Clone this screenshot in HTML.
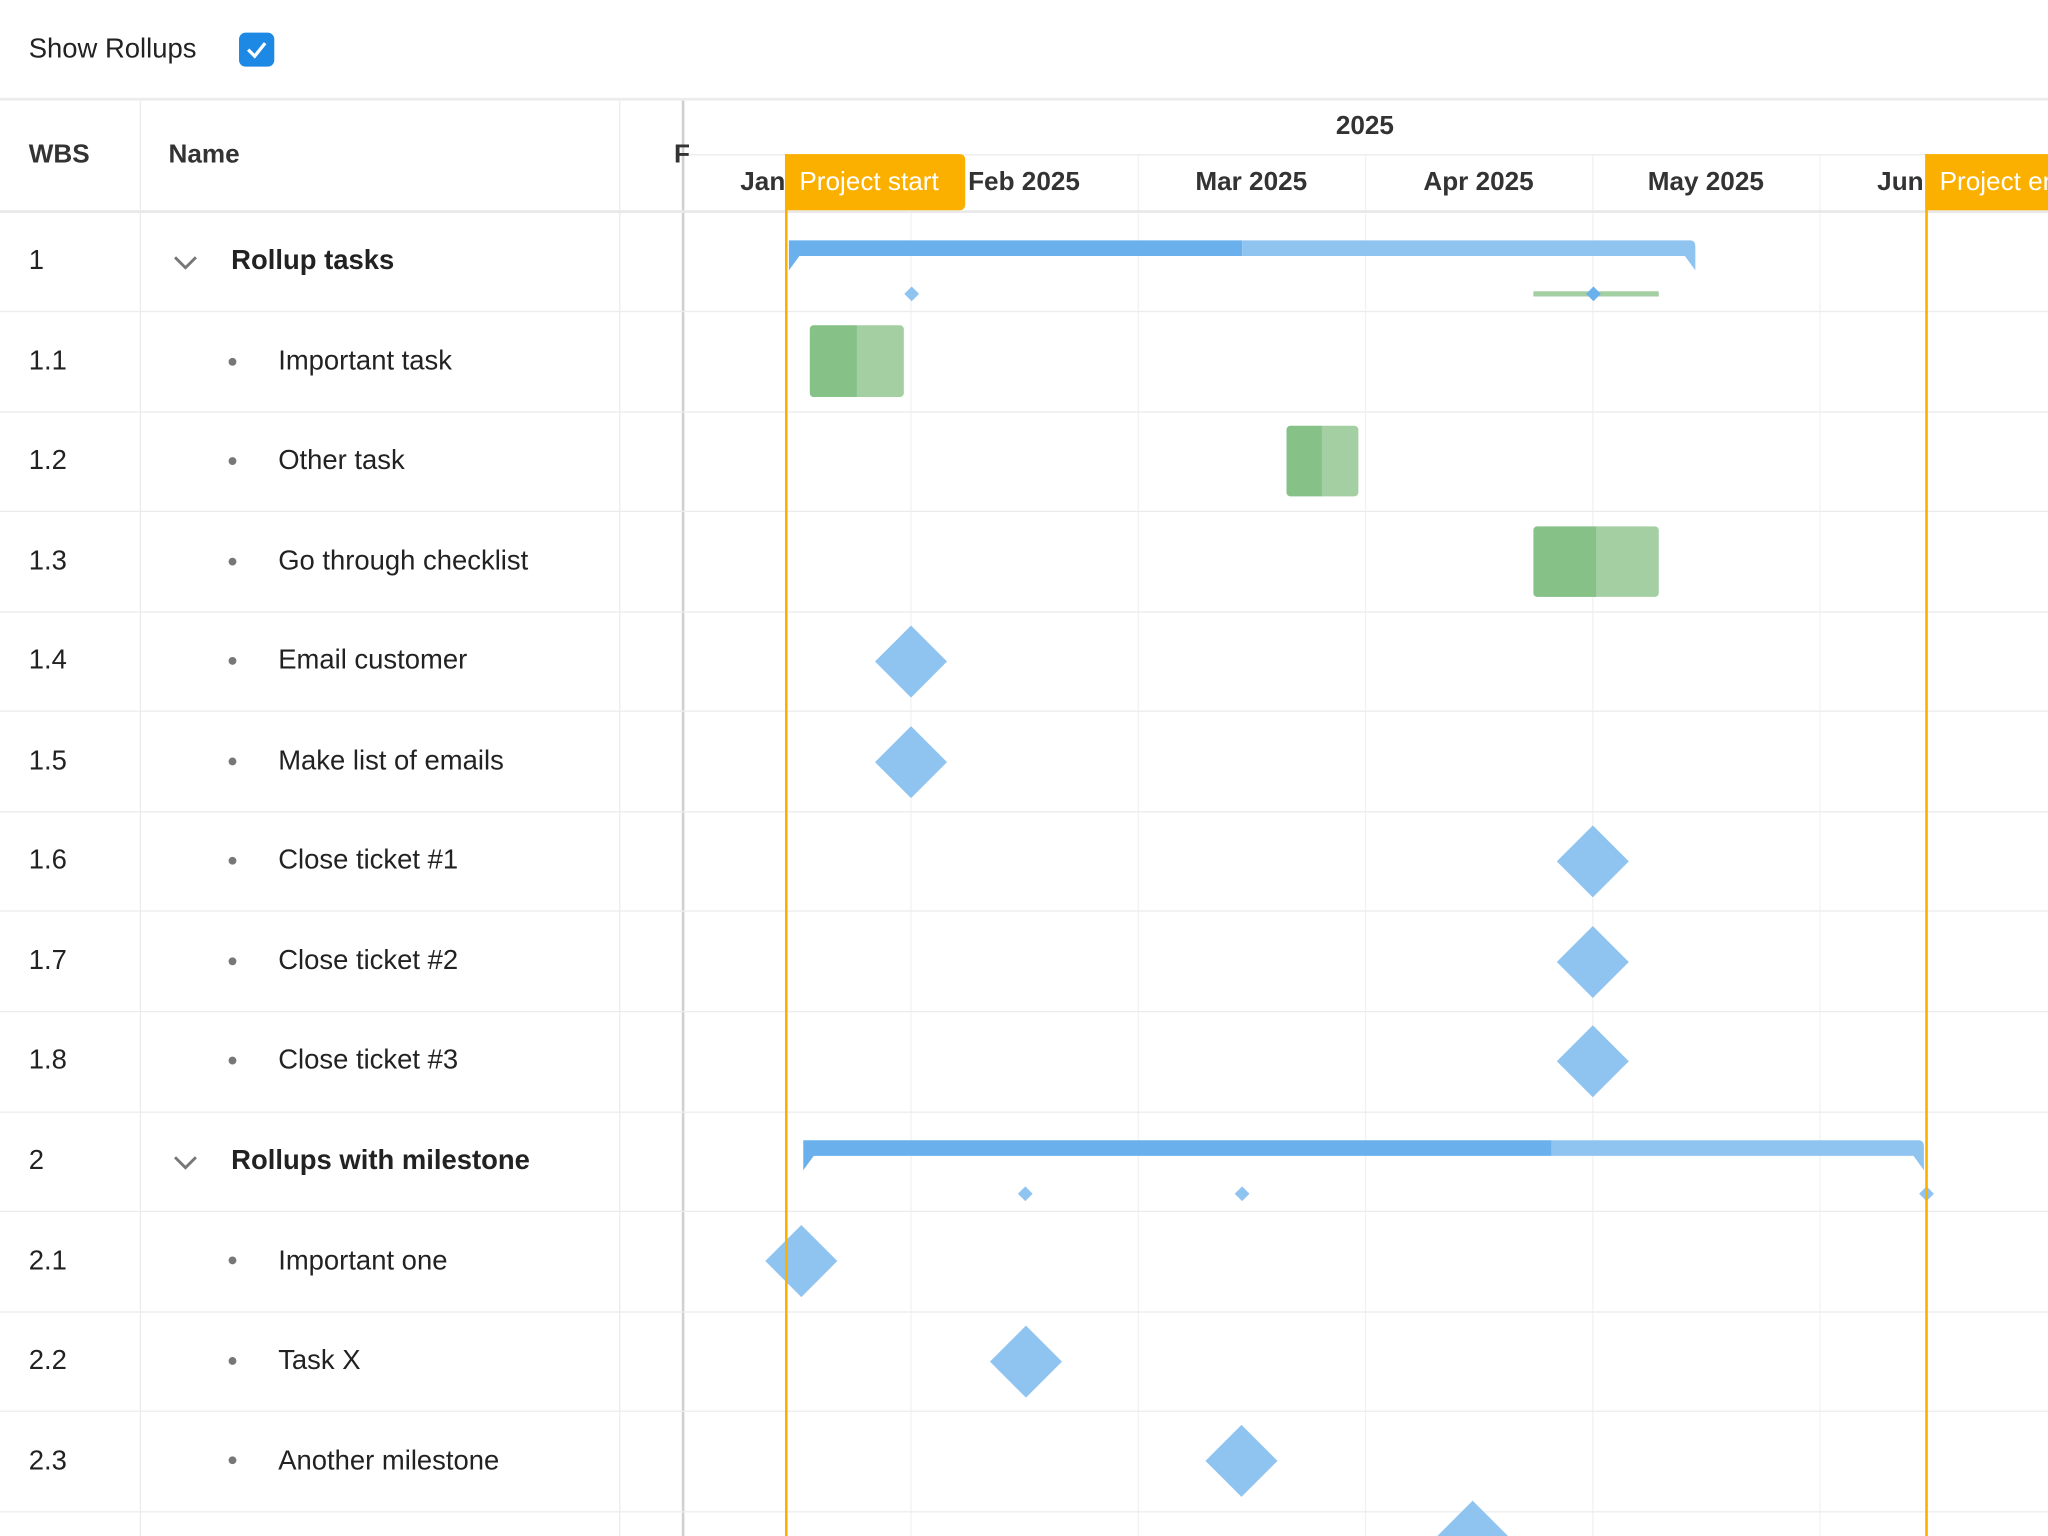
<!DOCTYPE html>
<html><head><meta charset="utf-8"><style>
html,body{margin:0;padding:0;background:#fff;overflow:hidden;width:2048px;height:1536px}
#w{position:absolute;left:0;top:0;width:1568px;height:1176px;overflow:hidden;transform:scale(1.30612);transform-origin:0 0;font-family:"Liberation Sans",sans-serif;color:#222}
.a{position:absolute}
.t{position:absolute;font-size:21px;white-space:nowrap;transform:translateY(-50%)}
.h{font-weight:bold;color:#333;font-size:20px}
.vl{position:absolute;width:1px;background:#ececec}
.d{position:absolute;background:#90c4f0;transform:rotate(45deg)}
.ml{position:absolute;font-size:20px;font-weight:bold;color:#333;transform:translate(-50%,-50%);white-space:nowrap}
.b{position:absolute;width:6px;height:6px;border-radius:50%;background:#777}
</style></head><body><div id="w">
<div class="t" style="left:22px;top:38px;font-size:21px">Show Rollups</div>
<div class="a" style="left:183px;top:25px;width:27px;height:26px;background:#1e88e5;border-radius:5px"></div>
<svg class="a" style="left:183px;top:25px" width="27" height="26"><path d="M7 13 L12 18 L20 8" stroke="#fff" stroke-width="2.5" fill="none"/></svg>
<div class="a" style="left:0;top:75px;width:1568px;height:2px;background:#ececec"></div>
<div class="vl" style="left:107px;top:77px;height:1099px"></div>
<div class="vl" style="left:474px;top:77px;height:1099px"></div>
<div class="a" style="left:522px;top:77px;width:2px;height:1099px;background:#d0d0d0"></div>
<div class="vl" style="left:697px;top:118px;height:1058px;background:#f2f2f2"></div>
<div class="vl" style="left:871px;top:118px;height:1058px;background:#f2f2f2"></div>
<div class="vl" style="left:1045px;top:118px;height:1058px;background:#f2f2f2"></div>
<div class="vl" style="left:1219px;top:118px;height:1058px;background:#f2f2f2"></div>
<div class="vl" style="left:1393px;top:118px;height:1058px;background:#f2f2f2"></div>
<div class="a" style="left:523px;top:118px;width:1045px;height:1px;background:#ececec"></div>
<div class="a" style="left:0;top:161px;width:1568px;height:2px;background:#e8e8e8"></div>
<div class="a" style="left:0;top:238px;width:1568px;height:1px;background:#ececec"></div>
<div class="a" style="left:0;top:315px;width:1568px;height:1px;background:#ececec"></div>
<div class="a" style="left:0;top:391px;width:1568px;height:1px;background:#ececec"></div>
<div class="a" style="left:0;top:468px;width:1568px;height:1px;background:#ececec"></div>
<div class="a" style="left:0;top:544px;width:1568px;height:1px;background:#ececec"></div>
<div class="a" style="left:0;top:621px;width:1568px;height:1px;background:#ececec"></div>
<div class="a" style="left:0;top:697px;width:1568px;height:1px;background:#ececec"></div>
<div class="a" style="left:0;top:774px;width:1568px;height:1px;background:#ececec"></div>
<div class="a" style="left:0;top:851px;width:1568px;height:1px;background:#ececec"></div>
<div class="a" style="left:0;top:927px;width:1568px;height:1px;background:#ececec"></div>
<div class="a" style="left:0;top:1004px;width:1568px;height:1px;background:#ececec"></div>
<div class="a" style="left:0;top:1080px;width:1568px;height:1px;background:#ececec"></div>
<div class="a" style="left:0;top:1157px;width:1568px;height:1px;background:#ececec"></div>
<div class="t h" style="left:22px;top:119px">WBS</div>
<div class="t h" style="left:129px;top:119px">Name</div>
<div class="t h" style="left:516px;top:119px">F</div>
<div class="ml" style="left:1045px;top:97px">2025</div>
<div class="ml" style="left:584px;top:140px">Jan</div>
<div class="ml" style="left:784px;top:140px">Feb 2025</div>
<div class="ml" style="left:958px;top:140px">Mar 2025</div>
<div class="ml" style="left:1132px;top:140px">Apr 2025</div>
<div class="ml" style="left:1306px;top:140px">May 2025</div>
<div class="ml" style="left:1455px;top:140px">Jun</div>
<div class="t" style="left:22px;top:200px">1</div>
<svg class="a" style="left:132px;top:194px" width="20" height="14"><path d="M2 3 L10 11 L18 3" stroke="#777" stroke-width="2.2" fill="none"/></svg>
<div class="t" style="left:177px;top:200px;font-weight:bold;color:#222">Rollup tasks</div>
<div class="t" style="left:22px;top:277px">1.1</div><div class="b" style="left:175px;top:274px"></div><div class="t" style="left:213px;top:277px">Important task</div>
<div class="t" style="left:22px;top:353px">1.2</div><div class="b" style="left:175px;top:350px"></div><div class="t" style="left:213px;top:353px">Other task</div>
<div class="t" style="left:22px;top:430px">1.3</div><div class="b" style="left:175px;top:427px"></div><div class="t" style="left:213px;top:430px">Go through checklist</div>
<div class="t" style="left:22px;top:506px">1.4</div><div class="b" style="left:175px;top:503px"></div><div class="t" style="left:213px;top:506px">Email customer</div>
<div class="t" style="left:22px;top:583px">1.5</div><div class="b" style="left:175px;top:580px"></div><div class="t" style="left:213px;top:583px">Make list of emails</div>
<div class="t" style="left:22px;top:659px">1.6</div><div class="b" style="left:175px;top:656px"></div><div class="t" style="left:213px;top:659px">Close ticket #1</div>
<div class="t" style="left:22px;top:736px">1.7</div><div class="b" style="left:175px;top:733px"></div><div class="t" style="left:213px;top:736px">Close ticket #2</div>
<div class="t" style="left:22px;top:812px">1.8</div><div class="b" style="left:175px;top:809px"></div><div class="t" style="left:213px;top:812px">Close ticket #3</div>
<div class="t" style="left:22px;top:889px">2</div>
<svg class="a" style="left:132px;top:883px" width="20" height="14"><path d="M2 3 L10 11 L18 3" stroke="#777" stroke-width="2.2" fill="none"/></svg>
<div class="t" style="left:177px;top:889px;font-weight:bold;color:#222">Rollups with milestone</div>
<div class="t" style="left:22px;top:966px">2.1</div><div class="b" style="left:175px;top:962px"></div><div class="t" style="left:213px;top:966px">Important one</div>
<div class="t" style="left:22px;top:1042px">2.2</div><div class="b" style="left:175px;top:1039px"></div><div class="t" style="left:213px;top:1042px">Task X</div>
<div class="t" style="left:22px;top:1119px">2.3</div><div class="b" style="left:175px;top:1115px"></div><div class="t" style="left:213px;top:1119px">Another milestone</div>
<svg class="a" style="left:600px;top:180px" width="710" height="32">
<path d="M4 4 L351 4 L351 16 L12 16 L4 27 Z" fill="#6ab0ec"/>
<path d="M351 4 L694 4 Q698 4 698 9 L698 27 L690 16 L351 16 Z" fill="#90c4f0"/></svg>
<div class="d" style="left:694px;top:221px;width:8px;height:8px"></div>
<div class="a" style="left:1174px;top:223px;width:96px;height:4px;background:#a3cfa3"></div>
<div class="d" style="left:1216px;top:221px;width:8px;height:8px;background:#6ab0ec"></div>
<div class="a" style="left:620px;top:249px;width:72px;height:55px;border-radius:3px;overflow:hidden;background:#a3cfa3"><div style="width:36px;height:100%;background:#86c187"></div></div>
<div class="a" style="left:985px;top:326px;width:55px;height:54px;border-radius:3px;overflow:hidden;background:#a3cfa3"><div style="width:27px;height:100%;background:#86c187"></div></div>
<div class="a" style="left:1174px;top:403px;width:96px;height:54px;border-radius:3px;overflow:hidden;background:#a3cfa3"><div style="width:48px;height:100%;background:#86c187"></div></div>
<div class="d" style="left:678px;top:487px;width:39px;height:39px"></div>
<div class="d" style="left:678px;top:564px;width:39px;height:39px"></div>
<div class="d" style="left:1200px;top:640px;width:39px;height:39px"></div>
<div class="d" style="left:1200px;top:717px;width:39px;height:39px"></div>
<div class="d" style="left:1200px;top:793px;width:39px;height:39px"></div>
<div class="d" style="left:594px;top:946px;width:39px;height:39px"></div>
<div class="d" style="left:766px;top:1023px;width:39px;height:39px"></div>
<div class="d" style="left:931px;top:1099px;width:39px;height:39px"></div>
<div class="d" style="left:1108px;top:1157px;width:39px;height:39px"></div>
<svg class="a" style="left:611px;top:869px" width="870" height="32">
<path d="M4 4 L577 4 L577 16 L12 16 L4 27 Z" fill="#6ab0ec"/>
<path d="M577 4 L858 4 Q862 4 862 9 L862 27 L854 16 L577 16 Z" fill="#90c4f0"/></svg>
<div class="d" style="left:781px;top:910px;width:8px;height:8px"></div>
<div class="d" style="left:947px;top:910px;width:8px;height:8px"></div>
<div class="d" style="left:1471px;top:910px;width:8px;height:8px"></div>
<div class="a" style="left:601px;top:118px;width:2px;height:1058px;background:#fbb000"></div>
<div class="a" style="left:601px;top:118px;width:138px;height:43px;background:#fbb000;border-radius:0 4px 4px 0"></div>
<div class="t" style="left:612px;top:140px;color:#fff;font-size:20px">Project start</div>
<div class="a" style="left:1474px;top:118px;width:2px;height:1058px;background:#fbb000"></div>
<div class="a" style="left:1474px;top:118px;width:94px;height:43px;background:#fbb000"></div>
<div class="t" style="left:1485px;top:140px;color:#fff;font-size:20px">Project end</div>
</div></body></html>
